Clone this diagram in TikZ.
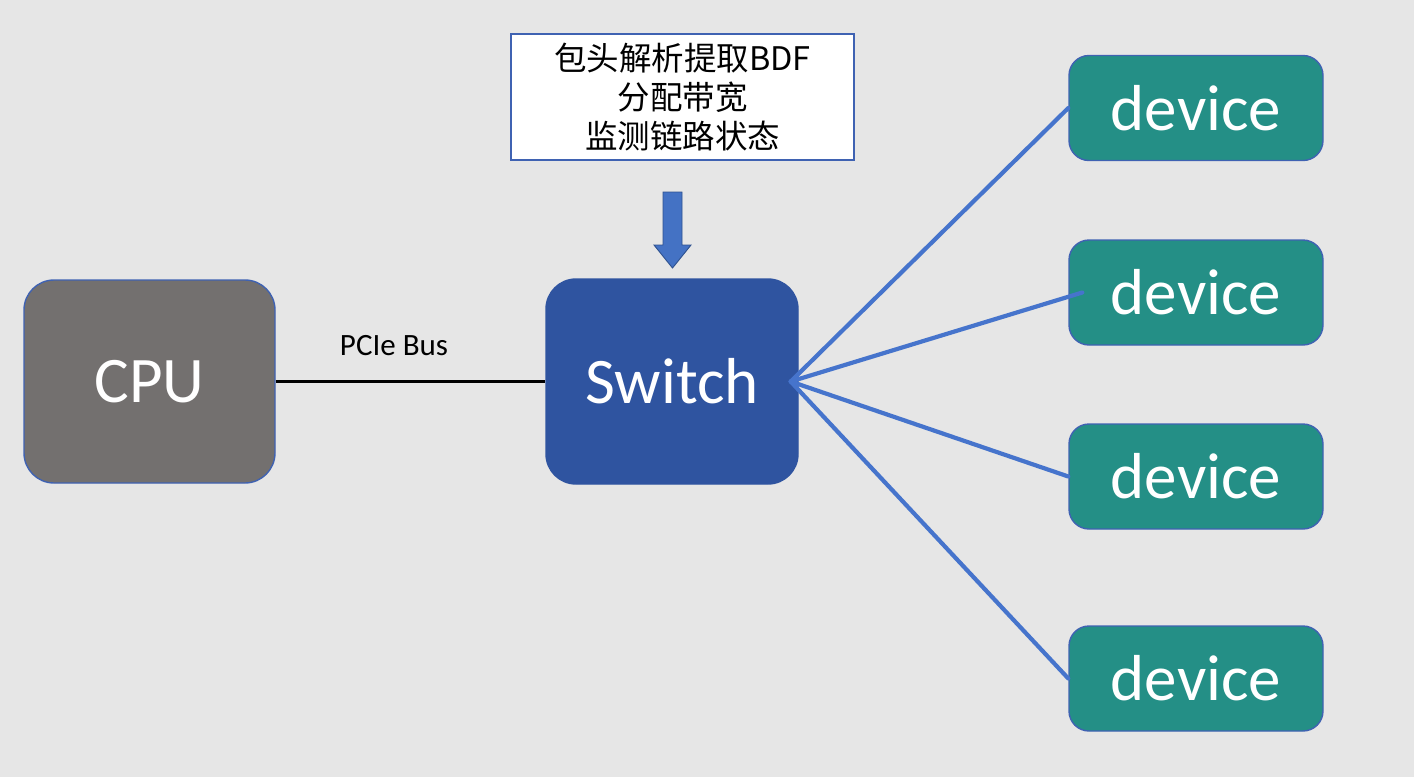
\documentclass[tikz,border=0pt]{standalone}
\usepackage{fontspec}
\setmainfont{Carlito}
\newfontfamily\cjk{Noto Sans CJK SC}
\definecolor{bgc}{HTML}{E6E6E6}
\definecolor{cpuc}{HTML}{73706F}
\definecolor{swc}{HTML}{2F54A0}
\definecolor{devc}{HTML}{248F86}
\definecolor{edgec}{HTML}{3F62B2}
\definecolor{linkc}{HTML}{4674CC}
\definecolor{arrc}{HTML}{4472C4}
\definecolor{arrd}{HTML}{2F528F}
\tikzset{
  bigbox/.style={draw=edgec, line width=1.4pt, rounded corners=30pt, text=white,
    font=\fontsize{65}{70}\selectfont, inner sep=0pt},
  devbox/.style={draw=edgec, line width=1.4pt, rounded corners=20pt, fill=devc, text=white,
    minimum width=254pt, minimum height=105pt, inner sep=0pt, font=\fontsize{65}{70}\selectfont},
  link/.style={draw=linkc, line width=4.2pt},
}
\begin{document}
\begin{tikzpicture}[x=1pt,y=-1pt]
\fill[bgc] (0,0) rectangle (1414,777);
\useasboundingbox (0,0) rectangle (1414,777);
\node[bigbox, fill=cpuc, minimum width=251pt, minimum height=203pt] (cpu) at (149.5,381.5) {CPU};
\node[bigbox, fill=swc, draw=swc, minimum width=252pt, minimum height=205pt] (sw) at (672,381.5) {Switch};
\draw[black, line width=3.6pt] (cpu.east) -- (sw.west);
\node[font=\fontsize{31}{34}\selectfont, text=black, inner sep=0pt] (bus) at (394,346) {PCIe Bus};
\node[draw=edgec, line width=1.4pt, fill=white, minimum width=343pt, minimum height=126pt, inner sep=0pt,
  align=center, font=\cjk\fontsize{32.5}{39}\selectfont] (info) at (682.5,97) {包头解析提取BDF\\分配带宽\\监测链路状态};
\fill[arrc, draw=arrd, line width=0.9pt] (663,192) -- (682,192) -- (682,245) -- (691,245) -- (672.5,268) -- (654,245) -- (663,245) -- cycle;
\node[devbox] (d1) at (1196,108) {device};
\node[devbox] (d2) at (1196,292.5) {device};
\node[devbox] (d3) at (1196,476.5) {device};
\node[devbox] (d4) at (1196,678.5) {device};
\coordinate (hub) at ([xshift=-8pt]sw.east);
\draw[link, line cap=round] (hub) -- (d1.west);
\draw[link, line cap=round] (hub) -- ([xshift=14pt]d2.west);
\draw[link, line cap=round] (hub) -- (d3.west);
\draw[link, line cap=round] (hub) -- (d4.west);
\end{tikzpicture}
\end{document}
